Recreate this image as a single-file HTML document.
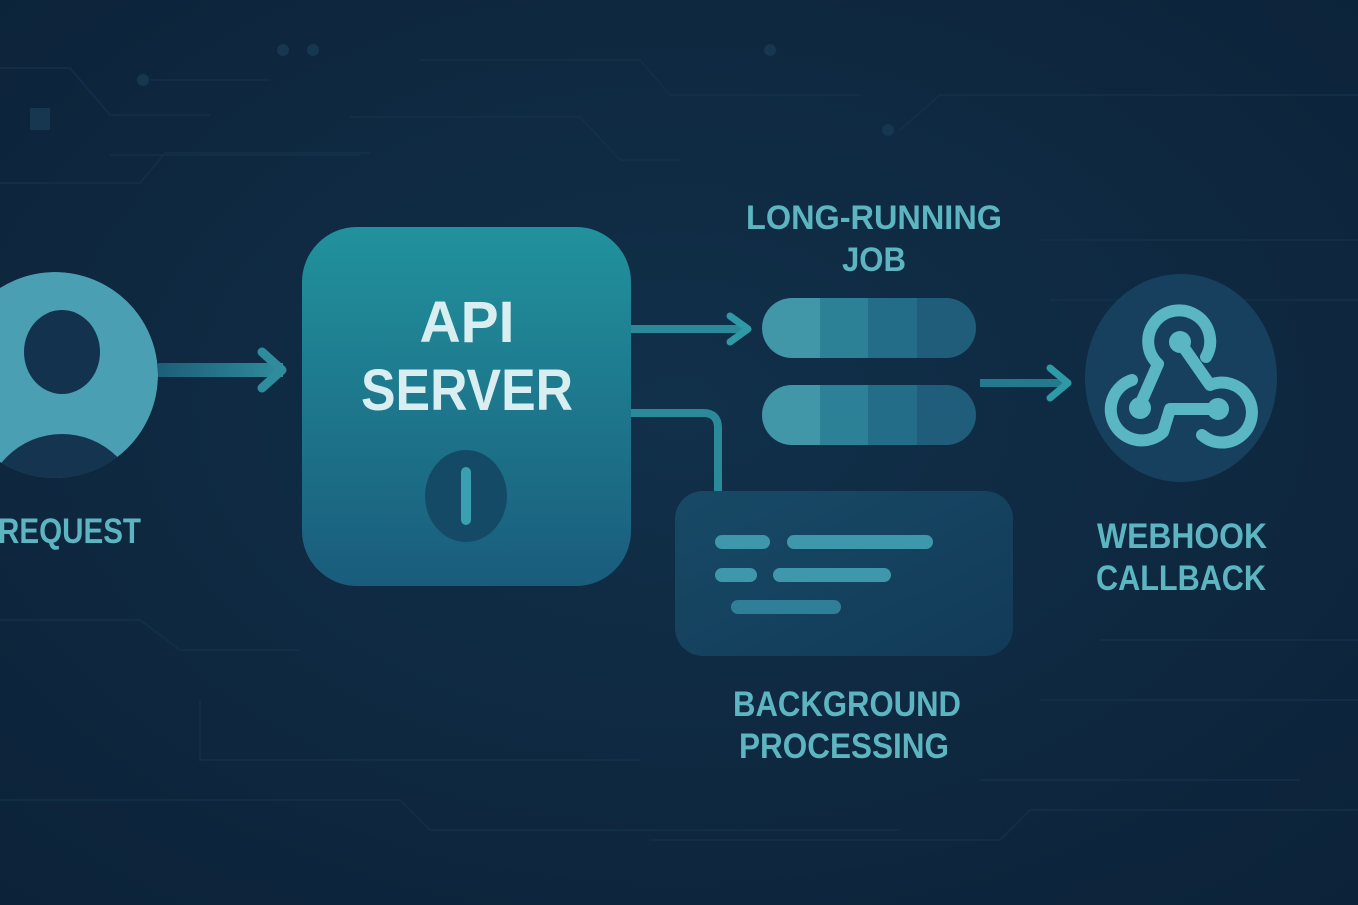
<!DOCTYPE html>
<html><head><meta charset="utf-8"><style>
html,body{margin:0;padding:0;background:#0f2740;overflow:hidden}
svg{display:block}
text{font-family:"Liberation Sans",sans-serif;font-weight:bold}
</style></head><body>
<svg width="1358" height="905" viewBox="0 0 1358 905" xmlns="http://www.w3.org/2000/svg">
<defs>
<radialGradient id="bg" cx="50%" cy="45%" r="75%"><stop offset="0" stop-color="#11304a"/><stop offset="1" stop-color="#0c2238"/></radialGradient>
<linearGradient id="srv" x1="0" y1="0" x2="0" y2="1"><stop offset="0" stop-color="#21929d"/><stop offset="1" stop-color="#1a5c7c"/></linearGradient>
<linearGradient id="ar1" x1="0" x2="1"><stop offset="0" stop-color="#1d5e78"/><stop offset="1" stop-color="#2f8c9c"/></linearGradient>
<linearGradient id="bgp" x1="0" y1="0" x2="1" y2="1"><stop offset="0" stop-color="#174a66"/><stop offset="1" stop-color="#123a58"/></linearGradient>
<clipPath id="pc"><circle cx="55" cy="375" r="103"/></clipPath>
</defs>
<rect width="1358" height="905" fill="url(#bg)"/>
<g stroke="#15324b" stroke-width="2" fill="none" opacity="0.7">
<path d="M0 68 H70 L110 115 H210"/><path d="M150 80 H270"/><path d="M110 155 H360"/><path d="M0 183 H140 L165 153 H370"/>
<path d="M420 60 H640 L670 95 H860"/><path d="M350 117 H580 L620 160 H680"/><path d="M900 130 L940 95 H1358"/>
<path d="M1040 240 H1358"/><path d="M1050 300 H1358"/>
<path d="M0 620 H140 L180 650 H300"/><path d="M200 700 V760 H640"/><path d="M0 800 H400 L430 830 H900"/>
<path d="M980 780 H1300"/><path d="M1040 700 H1358"/><path d="M1100 640 H1358"/><path d="M650 840 H1000 L1030 810 H1358"/>
</g>
<g fill="#173650"><circle cx="283" cy="50" r="6"/><circle cx="313" cy="50" r="6"/><circle cx="143" cy="80" r="6"/><rect x="30" y="108" width="20" height="22"/><circle cx="770" cy="50" r="6"/><circle cx="888" cy="130" r="6"/></g>
<g clip-path="url(#pc)">
<circle cx="55" cy="375" r="103" fill="#4b9fb3"/>
<circle cx="62" cy="512" r="78" fill="#143450"/>
</g>
<ellipse cx="62" cy="352" rx="38" ry="42" fill="#13324d"/>
<rect x="158" y="363" width="125" height="14" fill="url(#ar1)"/>
<path d="M262 352 L282 370 L262 388" stroke="#2f8c9c" stroke-width="9" fill="none" stroke-linecap="round" stroke-linejoin="round"/>
<rect x="302" y="227" width="329" height="359" rx="55" fill="url(#srv)"/>
<text x="467" y="342" font-size="58" fill="#d9eef0" text-anchor="middle" textLength="95" lengthAdjust="spacingAndGlyphs">API</text>
<text x="467" y="410" font-size="58" fill="#d9eef0" text-anchor="middle" textLength="212" lengthAdjust="spacingAndGlyphs">SERVER</text>
<ellipse cx="466" cy="496" rx="41" ry="46" fill="#154a66"/>
<line x1="466" y1="472" x2="466" y2="520" stroke="#3a9fb0" stroke-width="10" stroke-linecap="round"/>
<rect x="631" y="325" width="115" height="8" fill="#2b8a9a"/>
<path d="M730 316 L748 329 L730 342" stroke="#2f9aa6" stroke-width="7" fill="none" stroke-linecap="round" stroke-linejoin="round"/>
<path d="M631 413 H703 Q718 413 718 428 V492" stroke="#2b8a9a" stroke-width="8" fill="none"/>
<rect x="980" y="379" width="85" height="8" fill="#24798e"/>
<path d="M1050 368 L1068 383 L1050 398" stroke="#2f9aa6" stroke-width="7" fill="none" stroke-linecap="round" stroke-linejoin="round"/>
<defs><clipPath id="p1"><rect x="762" y="298" width="214" height="60" rx="30"/></clipPath><clipPath id="p2"><rect x="762" y="385" width="214" height="60" rx="30"/></clipPath></defs>
<g clip-path="url(#p1)"><rect x="762" y="298" width="58" height="60" fill="#4196a8"/><rect x="820" y="298" width="48" height="60" fill="#2c8196"/><rect x="868" y="298" width="49" height="60" fill="#236d88"/><rect x="917" y="298" width="59" height="60" fill="#1f5d7a"/></g>
<g clip-path="url(#p2)"><rect x="762" y="385" width="58" height="60" fill="#4196a8"/><rect x="820" y="385" width="48" height="60" fill="#2c8196"/><rect x="868" y="385" width="49" height="60" fill="#236d88"/><rect x="917" y="385" width="59" height="60" fill="#1f5d7a"/></g>
<ellipse cx="1181" cy="378" rx="96" ry="104" fill="#173f5e"/>
<g stroke="#59b6c2" stroke-width="12" fill="none" stroke-linecap="round" stroke-linejoin="round">
<path d="M1206 357 A31 31 0 1 0 1158 364 L1140 405"/>
<path d="M1180 342 L1210 385 A30 30 0 1 1 1202 435"/>
<path d="M1132 380 A31 31 0 1 0 1163 432 L1170 409 H1218"/>
</g>
<g fill="#59b6c2"><circle cx="1180" cy="342" r="11"/><circle cx="1140" cy="408" r="11"/><circle cx="1218" cy="409" r="11"/></g>
<rect x="675" y="491" width="338" height="165" rx="28" fill="url(#bgp)"/>
<g stroke-linecap="round" stroke-width="14" stroke="#3e97aa"><line x1="722" y1="542" x2="763" y2="542"/><line x1="794" y1="542" x2="926" y2="542"/><line x1="722" y1="575" x2="750" y2="575"/><line x1="780" y1="575" x2="884" y2="575"/><line x1="738" y1="607" x2="834" y2="607" stroke="#2f7f98"/></g>
<g fill="#5cb5c0">
<text x="874" y="229" font-size="34" text-anchor="middle" textLength="256" lengthAdjust="spacingAndGlyphs">LONG-RUNNING</text>
<text x="874" y="271" font-size="34" text-anchor="middle" textLength="64" lengthAdjust="spacingAndGlyphs">JOB</text>
<text x="-2" y="543" font-size="35" textLength="143" lengthAdjust="spacingAndGlyphs">REQUEST</text>
<text x="1182" y="548" font-size="35" text-anchor="middle" textLength="170" lengthAdjust="spacingAndGlyphs">WEBHOOK</text>
<text x="1181" y="590" font-size="35" text-anchor="middle" textLength="170" lengthAdjust="spacingAndGlyphs">CALLBACK</text>
<text x="847" y="716" font-size="35" text-anchor="middle" textLength="228" lengthAdjust="spacingAndGlyphs">BACKGROUND</text>
<text x="844" y="758" font-size="35" text-anchor="middle" textLength="210" lengthAdjust="spacingAndGlyphs">PROCESSING</text>
</g>
</svg>
</body></html>
